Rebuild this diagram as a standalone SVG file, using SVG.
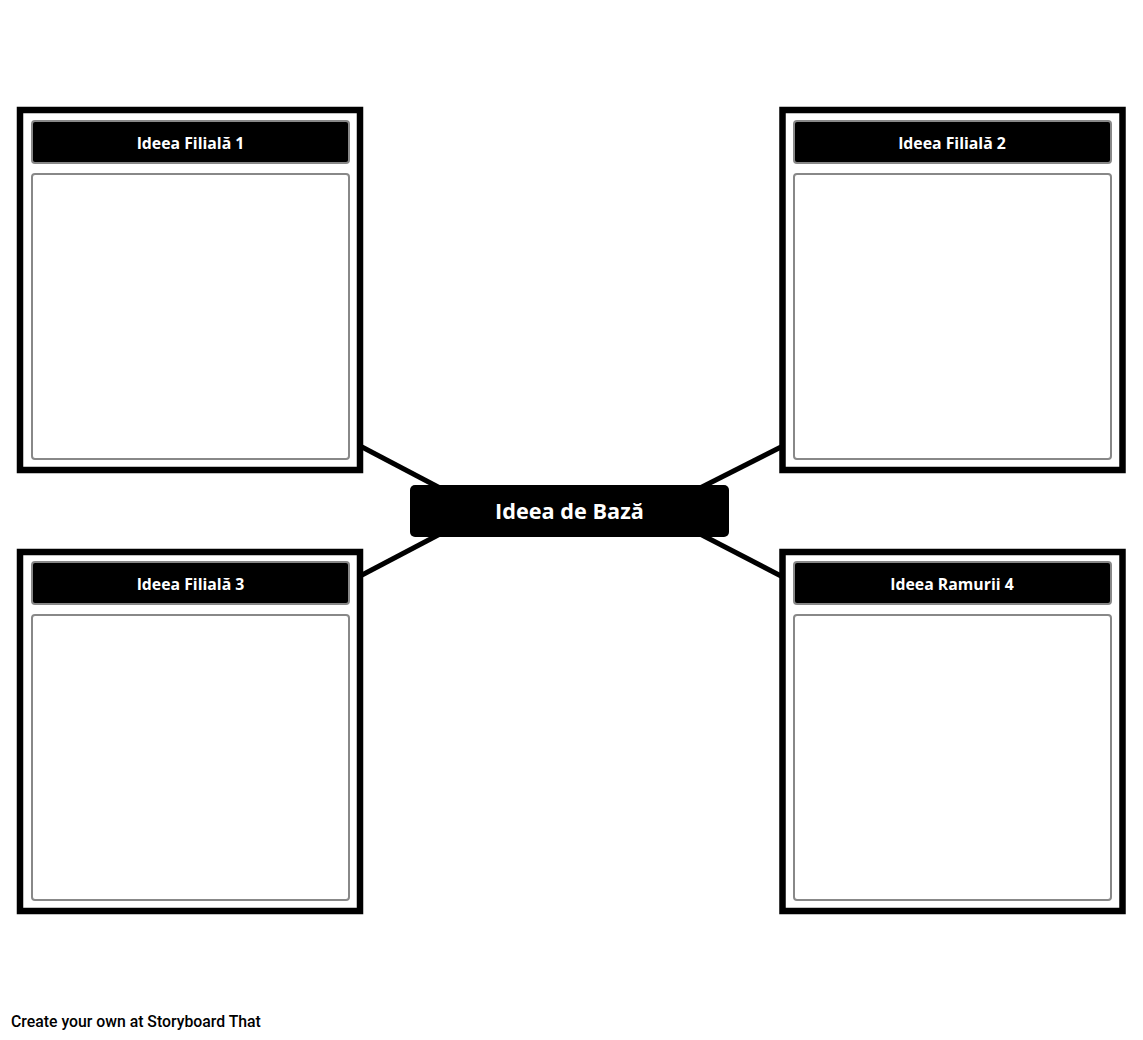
<svg xmlns="http://www.w3.org/2000/svg" width="1143" height="1040" viewBox="0 0 1143 1040">
<style>
.frame{fill:#fff;stroke:#000;stroke-width:6.5}
.head{fill:#000;stroke:#888;stroke-width:2}
.body{fill:#fff;stroke:#888;stroke-width:2}
.ht{fill:#fff;font-family:"Open Sans","Noto Sans",sans-serif;font-weight:bold;font-size:15.8px;text-anchor:middle}
.conn{stroke:#000;stroke-width:5;fill:none}
</style>
<rect width="1143" height="1040" fill="#fff"/>
<g id="connectors">
<line class="conn" x1="362" y1="447" x2="440" y2="488"/>
<line class="conn" x1="362" y1="575" x2="440" y2="534"/>
<line class="conn" x1="781" y1="447" x2="700" y2="488"/>
<line class="conn" x1="781" y1="576" x2="700" y2="534"/>
</g>
<g id="branch1">
<rect class="frame" x="20" y="110" width="340" height="360"/>
<rect class="head" x="32" y="121" width="317" height="42" rx="3"/>
<rect class="body" x="32" y="174" width="317" height="285" rx="3"/>
<text class="ht" x="190.5" y="149">Ideea Filială 1</text>
</g>
<g id="branch2">
<rect class="frame" x="782.5" y="110" width="340" height="360"/>
<rect class="head" x="794" y="121" width="317" height="42" rx="3"/>
<rect class="body" x="794" y="174" width="317" height="285" rx="3"/>
<text class="ht" x="952" y="149">Ideea Filială 2</text>
</g>
<g id="branch3">
<rect class="frame" x="20" y="552" width="340" height="359"/>
<rect class="head" x="32" y="562" width="317" height="42" rx="3"/>
<rect class="body" x="32" y="615" width="317" height="285" rx="3"/>
<text class="ht" x="190.5" y="590">Ideea Filială 3</text>
</g>
<g id="branch4">
<rect class="frame" x="782.5" y="552" width="340" height="359"/>
<rect class="head" x="794" y="562" width="317" height="42" rx="3"/>
<rect class="body" x="794" y="615" width="317" height="285" rx="3"/>
<text class="ht" x="952" y="590">Ideea Ramurii 4</text>
</g>
<g id="center">
<rect x="410" y="485" width="319" height="52" rx="5" fill="#000"/>
<text x="569.5" y="519" fill="#fff" font-family="'Open Sans','Noto Sans',sans-serif" font-weight="bold" font-size="21.7" text-anchor="middle">Ideea de Bază</text>
</g>
<text x="11" y="1027" font-family="Roboto,'Liberation Sans',sans-serif" font-weight="500" font-size="15.8" fill="#000">Create your own at Storyboard That</text>
</svg>
